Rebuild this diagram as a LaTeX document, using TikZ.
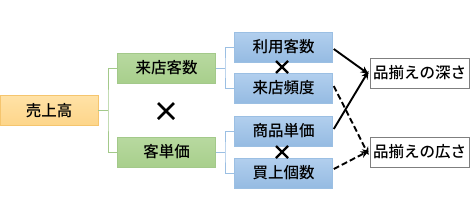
\documentclass[tikz,border=0pt]{standalone}
\usepackage{fontspec}
\setmainfont{Noto Sans CJK JP}[UprightFont=* Medium]
\usetikzlibrary{arrows.meta}
\definecolor{orangefill}{HTML}{FDD58A}
\definecolor{orangetop}{HTML}{FFE2A6}
\definecolor{orangeline}{HTML}{F5C56E}
\definecolor{greenfill}{HTML}{A8CF8C}
\definecolor{greentop}{HTML}{B8D9A0}
\definecolor{greenline}{HTML}{A3C98A}
\definecolor{bluefill}{HTML}{95BBE2}
\definecolor{bluetop}{HTML}{B2CFEE}
\definecolor{blueline}{HTML}{9BBFE3}
\definecolor{grayline}{HTML}{7F7F7F}
\tikzset{
  basebox/.style={minimum width=98bp, minimum height=30bp, inner sep=0pt, font=\fontsize{15.5bp}{16bp}\selectfont, text=black},
  salesbox/.style={basebox, top color=orangetop, bottom color=orangefill, draw=orangeline, line width=0.5bp},
  greenbox/.style={basebox, top color=greentop, bottom color=greenfill, draw=greenline, line width=0.5bp},
  bluebox/.style={basebox, top color=bluetop, bottom color=bluefill, draw=blueline, line width=0.5bp},
  whitebox/.style={basebox, minimum width=99bp, fill=white, draw=grayline, line width=0.8bp},
  greenconn/.style={draw=greenline, line width=1bp},
  blueconn/.style={draw=blueline, line width=1bp},
  solidarrow/.style={draw=black, line width=1.9bp, -{Stealth[length=8bp,width=7bp]}},
  dasharrow/.style={solidarrow, dash pattern=on 6bp off 3bp},
  crossmark/.style={draw=black, line width=2.6bp}
}
\begin{document}
\begin{tikzpicture}[x=1bp,y=-1bp]
\useasboundingbox (0,0) rectangle (474,221);
\node[salesbox] (sales) at (49,110.5) {売上高};
\node[greenbox] (visit) at (166.5,68) {来店客数};
\node[greenbox] (unit) at (166.5,152) {客単価};
\node[bluebox] (users) at (283.5,47) {利用客数};
\node[bluebox] (freq) at (283.5,88) {来店頻度};
\node[bluebox] (price) at (283.5,131) {商品単価};
\node[bluebox] (qty) at (283.5,173) {買上個数};
\node[whitebox] (depth) at (419.5,73) {品揃えの深さ};
\node[whitebox] (width) at (419.5,152) {品揃えの広さ};
\coordinate (j1) at (108,110.5);
\coordinate (j2) at (225,68);
\coordinate (j3) at (225,152);
\draw[greenconn] (sales.east) -- (j1);
\draw[greenconn] (visit.west) -| (j1) |- (unit.west);
\draw[blueconn] (visit.east) -- (j2);
\draw[blueconn] (users.west) -| (j2) |- (freq.west);
\draw[blueconn] (unit.east) -- (j3);
\draw[blueconn] (price.west) -| (j3) |- (qty.west);
% crosses
\draw[crossmark] (158,103) -- (174,119) (158,119) -- (174,103);
\draw[crossmark, line width=2.3bp] (276,61) -- (288,73) (276,73) -- (288,61);
\draw[crossmark, line width=2.3bp] (276,146) -- (288,158) (276,158) -- (288,146);
% arrows
\draw[solidarrow] ([xshift=1bp,yshift=-2bp]users.east) -- ([xshift=-1bp,yshift=-1bp]depth.west);
\draw[solidarrow] ([xshift=1bp,yshift=2bp]price.east) -- ([xshift=-1bp,yshift=2bp]depth.west);
\draw[dasharrow] ([xshift=1bp,yshift=2bp]freq.east) -- ([xshift=-1bp,yshift=-3bp]width.west);
\draw[dasharrow] ([xshift=1bp,yshift=4bp]qty.east) -- ([xshift=-1bp,yshift=1bp]width.west);
\end{tikzpicture}
\end{document}
